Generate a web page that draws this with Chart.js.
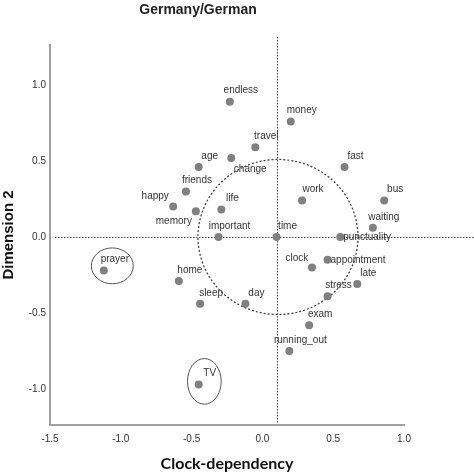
<!DOCTYPE html>
<html>
<head>
<meta charset="utf-8">
<script src="https://cdn.jsdelivr.net/npm/chart.js@4.4.1/dist/chart.umd.min.js"></script>
<style>
  html, body { margin: 0; padding: 0; background: #fff; }
  #wrap { width: 474px; height: 474px; }
</style>
</head>
<body>
<div id="wrap"><canvas id="mdsChart" width="474" height="474"></canvas></div>
<script>
// word positions (dimension 1 = clock-dependency, dimension 2)
const words = ['endless', 'money', 'travel', 'change', 'age', 'fast', 'friends', 'happy', 'memory',
  'life', 'work', 'bus', 'waiting', 'important', 'time', 'punctuality', 'prayer', 'home', 'sleep',
  'day', 'clock', 'appointment', 'late', 'stress', 'exam', 'running_out', 'TV'];
const dim1 = [-0.23, 0.20, -0.05, -0.22, -0.45, 0.58, -0.54, -0.63, -0.47,
  -0.29, 0.28, 0.86, 0.78, -0.31, 0.10, 0.55, -1.12, -0.59, -0.44,
  -0.12, 0.35, 0.46, 0.67, 0.46, 0.33, 0.19, -0.45];
const dim2 = [0.89, 0.76, 0.59, 0.52, 0.46, 0.46, 0.30, 0.20, 0.17,
  0.18, 0.24, 0.24, 0.06, 0.00, 0.00, 0.00, -0.22, -0.29, -0.44,
  -0.44, -0.20, -0.15, -0.31, -0.39, -0.58, -0.75, -0.97];

const xTicks = [-1.5, -1.0, -0.5, 0.0, 0.5, 1.0];
const yTicks = [-1.0, -0.5, 0.0, 0.5, 1.0];

// reference lines and the drawn circles
const refX = 0.1;
const refY = 0;
const bigCircle = { cx: 0.11, cy: 0, rx: 0.565, ry: 0.51 };
const marked = [
  { cx: -1.06, cy: -0.19, rx: 0.148, ry: 0.118 },
  { cx: -0.41, cy: -0.95, rx: 0.119, ry: 0.15 },
];

// where each label sits relative to its point (default: up and right)
const labelPlace = {
  happy: [-18, -10, 'center'],
  memory: [-22, 10, 'center'],
  change: [19, 11, 'center'],
  clock: [-15, -9, 'center'],
  punctuality: [3, 0, 'left'],
  appointment: [3, 0, 'left'],
};

const points = words.map((w, i) => ({ x: dim1[i], y: dim2[i] }));

function ellipseAt(ctx, xs, ys, e) {
  const cx = xs.getPixelForValue(e.cx);
  const cy = ys.getPixelForValue(e.cy);
  const rx = Math.abs(xs.getPixelForValue(e.cx + e.rx) - cx);
  const ry = Math.abs(ys.getPixelForValue(e.cy + e.ry) - cy);
  ctx.beginPath();
  ctx.ellipse(cx, cy, rx, ry, 0, 0, Math.PI * 2);
  ctx.stroke();
}

const decorations = {
  id: 'decorations',
  beforeDatasetsDraw(chart) {
    const { ctx, chartArea, scales } = chart;
    const xs = scales.x, ys = scales.y;
    ctx.save();
    ctx.strokeStyle = '#444';
    ctx.lineWidth = 1;
    ctx.setLineDash([1.5, 1.5]);
    // horizontal reference line
    const y0 = Math.round(ys.getPixelForValue(refY)) + 0.5;
    ctx.beginPath();
    ctx.moveTo(chartArea.left + 5, y0);
    ctx.lineTo(chart.width, y0);
    ctx.stroke();
    // vertical reference line
    const x0 = Math.round(xs.getPixelForValue(refX)) + 0.5;
    ctx.beginPath();
    ctx.moveTo(x0, chartArea.top - 8);
    ctx.lineTo(x0, chartArea.bottom - 2);
    ctx.stroke();
    // dotted circle
    ctx.strokeStyle = '#333';
    ctx.lineWidth = 1.2;
    ctx.setLineDash([2, 2]);
    ellipseAt(ctx, xs, ys, bigCircle);
    // solid ellipses around prayer and TV
    ctx.setLineDash([]);
    ctx.strokeStyle = '#555';
    ctx.lineWidth = 1;
    marked.forEach(e => ellipseAt(ctx, xs, ys, e));
    ctx.restore();
  },
  afterDatasetsDraw(chart) {
    const { ctx } = chart;
    const meta = chart.getDatasetMeta(0);
    ctx.save();
    ctx.font = '10px "Liberation Sans", Arial, sans-serif';
    ctx.fillStyle = '#333';
    ctx.textBaseline = 'middle';
    meta.data.forEach((el, i) => {
      const p = labelPlace[words[i]] || [11, -11, 'center'];
      ctx.textAlign = p[2];
      ctx.fillText(words[i], el.x + p[0], el.y + p[1]);
    });
    // chart title
    ctx.font = 'bold 14px "Liberation Sans", Arial, sans-serif';
    ctx.fillStyle = '#222';
    ctx.textAlign = 'center';
    ctx.fillText('Germany/German', 198, 10);
    ctx.restore();
  },
};

const config = {
  type: 'scatter',
  data: {
    datasets: [
      {
        label: 'words',
        data: points,
        backgroundColor: '#808080',
        borderWidth: 0,
        pointRadius: 4,
        pointHoverRadius: 4,
      },
    ],
  },
  options: {
    responsive: false,
    animation: false,
    layout: {
      padding: { top: 45, right: 70, left: 0, bottom: 0 },
    },
    plugins: {
      legend: { display: false },
      tooltip: { enabled: false },
      title: { display: false },
    },
    scales: {
      x: {
        type: 'linear',
        min: -1.5,
        max: 1.0,
        afterBuildTicks: (scale) => { scale.ticks = xTicks.map(v => ({ value: v })); },
        afterFit: (scale) => { scale.height = 49; },
        grid: { display: false, drawTicks: false },
        border: { display: true, color: '#a0a0a0', width: 2 },
        ticks: {
          padding: 8,
          color: '#333',
          font: { family: '"Liberation Sans", Arial, sans-serif', size: 10 },
          callback: (v) => Number(v).toFixed(1),
        },
        title: {
          display: true,
          text: 'Clock-dependency',
          color: '#111',
          font: { family: 'Lato, sans-serif', size: 16, weight: 'bold' },
          padding: { top: 0, bottom: 1 },
        },
      },
      y: {
        type: 'linear',
        min: -1.237,
        max: 1.263,
        afterBuildTicks: (scale) => { scale.ticks = yTicks.map(v => ({ value: v })); },
        afterFit: (scale) => { scale.width = 50; },
        grid: { display: false, drawTicks: false },
        border: { display: true, color: '#a0a0a0', width: 2 },
        ticks: {
          padding: 4,
          color: '#333',
          font: { family: '"Liberation Sans", Arial, sans-serif', size: 10 },
          callback: (v) => Number(v).toFixed(1),
        },
        title: {
          display: true,
          text: 'Dimension 2',
          color: '#111',
          font: { family: '"Liberation Sans", Arial, sans-serif', size: 15, weight: 'bold' },
          padding: { top: 0, bottom: 0 },
        },
      },
    },
  },
  plugins: [decorations],
};

const mdsChart = new Chart(document.getElementById('mdsChart').getContext('2d'), config);
</script>
</body>
</html>
